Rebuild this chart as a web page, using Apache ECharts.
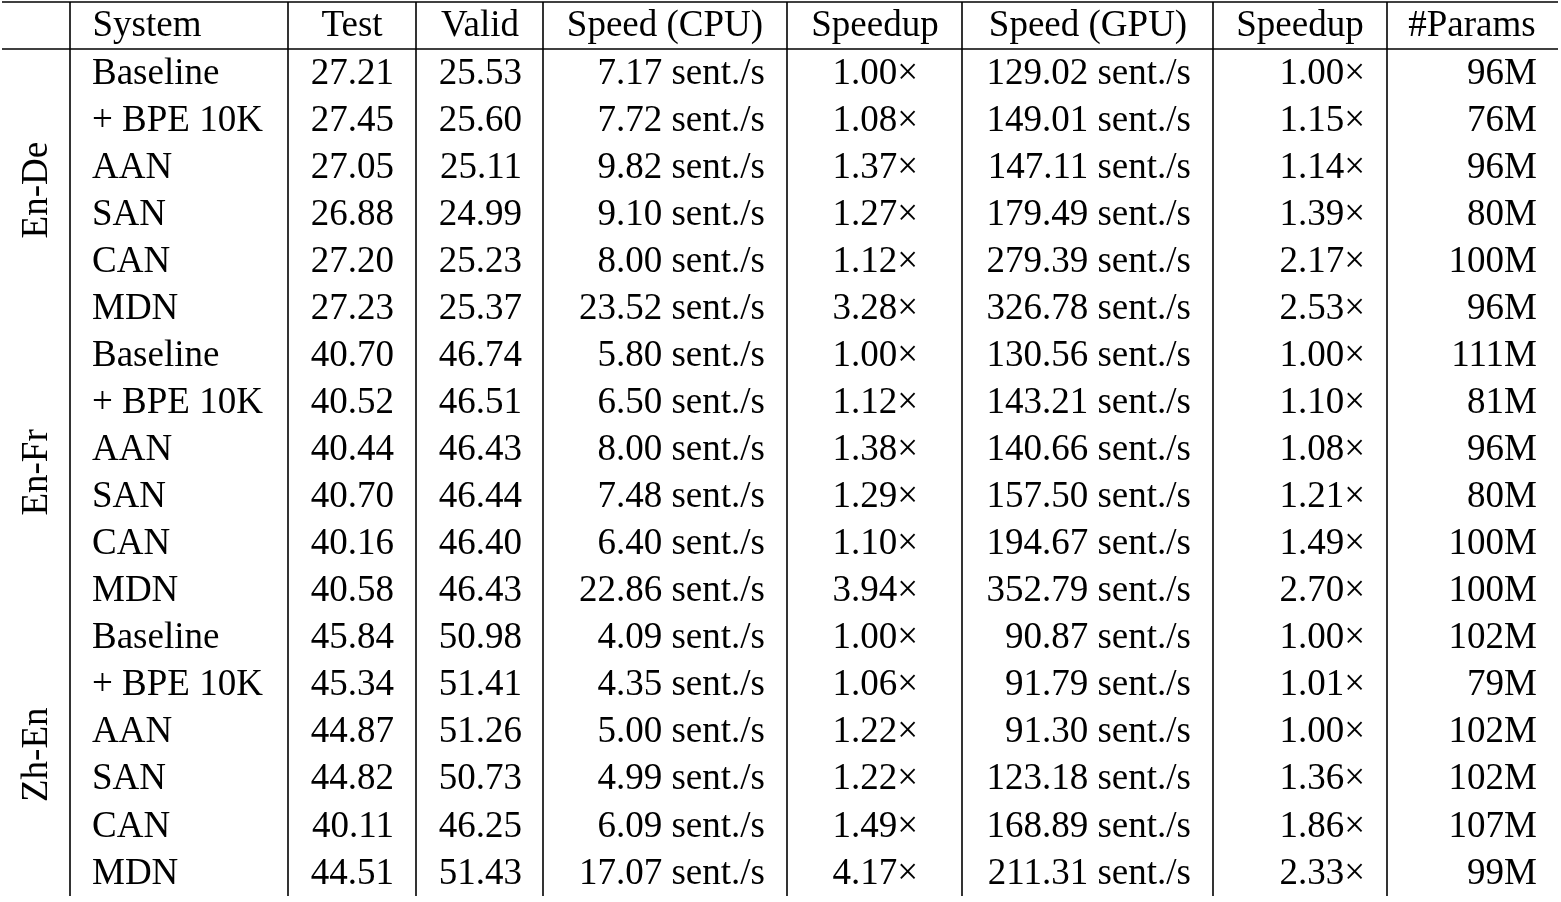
<!DOCTYPE html>
<html style="height: 100%">
<head>
<meta charset="utf-8">
<script src="https://cdn.jsdelivr.net/npm/echarts@6/dist/echarts.min.js"></script>
</head>
<body style="height: 100%; margin: 0; background: #fff">
<div id="container" style="width: 1561px; height: 902px"></div>
<script type="text/javascript">
// table content
var headers = ['System', 'Test', 'Valid', 'Speed (CPU)', 'Speedup', 'Speed (GPU)', 'Speedup', '#Params'];
var groups = ['En-De', 'En-Fr', 'Zh-En'];
var systems = ['Baseline', '+ BPE 10K', 'AAN', 'SAN', 'CAN', 'MDN'];
var test = [27.21, 27.45, 27.05, 26.88, 27.20, 27.23,
            40.70, 40.52, 40.44, 40.70, 40.16, 40.58,
            45.84, 45.34, 44.87, 44.82, 40.11, 44.51];
var valid = [25.53, 25.60, 25.11, 24.99, 25.23, 25.37,
             46.74, 46.51, 46.43, 46.44, 46.40, 46.43,
             50.98, 51.41, 51.26, 50.73, 46.25, 51.43];
var cpuSpeed = [7.17, 7.72, 9.82, 9.10, 8.00, 23.52,
                5.80, 6.50, 8.00, 7.48, 6.40, 22.86,
                4.09, 4.35, 5.00, 4.99, 6.09, 17.07];
var cpuSpeedup = [1.00, 1.08, 1.37, 1.27, 1.12, 3.28,
                  1.00, 1.12, 1.38, 1.29, 1.10, 3.94,
                  1.00, 1.06, 1.22, 1.22, 1.49, 4.17];
var gpuSpeed = [129.02, 149.01, 147.11, 179.49, 279.39, 326.78,
                130.56, 143.21, 140.66, 157.50, 194.67, 352.79,
                90.87, 91.79, 91.30, 123.18, 168.89, 211.31];
var gpuSpeedup = [1.00, 1.15, 1.14, 1.39, 2.17, 2.53,
                  1.00, 1.10, 1.08, 1.21, 1.49, 2.70,
                  1.00, 1.01, 1.00, 1.36, 1.86, 2.33];
var params = ['96M', '76M', '96M', '80M', '100M', '96M',
              '111M', '81M', '96M', '80M', '100M', '100M',
              '102M', '79M', '102M', '102M', '107M', '99M'];

// layout (pixel space of the hidden axes)
var colLines = [70, 288, 416, 543, 787, 962, 1213, 1387];
var headerX = [147, 352, 480, 665, 875, 1088, 1300, 1472];
var cellX = [92, 394, 522, 765, 918, 1191, 1365, 1537];
var cellAlign = ['left', 'right', 'right', 'right', 'right', 'right', 'right', 'right'];
var headerY = 26, firstRowY = 74, rowH = 47.05, lineTop = 49;

var cells = [];
headers.forEach(function (h, c) { cells.push([headerX[c], headerY, h, 'center', 0]); });
for (var r = 0; r < 18; r++) {
    var y = firstRowY + r * rowH;
    var vals = [systems[r % 6], test[r].toFixed(2), valid[r].toFixed(2),
        cpuSpeed[r].toFixed(2) + ' sent./s', cpuSpeedup[r].toFixed(2) + '×',
        gpuSpeed[r].toFixed(2) + ' sent./s', gpuSpeedup[r].toFixed(2) + '×', params[r]];
    vals.forEach(function (v, c) { cells.push([cellX[c], y, v, cellAlign[c], 0]); });
}
groups.forEach(function (g, i) {
    cells.push([37, lineTop + (i * 6 + 3) * rowH, g, 'center', 1]);
});

var lines = [[2, 2, 1558, 2], [2, lineTop, 1558, lineTop]];
for (var i = 0; i < 3; i++) {
    var top = lineTop + i * 6 * rowH;
    lines.push([70, top + 5 * rowH, 1558, top + 5 * rowH]);
    lines.push([2, top + 6 * rowH, 1558, top + 6 * rowH]);
}
colLines.forEach(function (x) { lines.push([x, 2, x, lineTop + 18 * rowH]); });

var font = '"Liberation Serif", "DejaVu Serif", serif';
var myChart = echarts.init(document.getElementById('container'));
myChart.setOption({
    animation: false,
    grid: {left: 0, right: 0, top: 0, bottom: 0},
    xAxis: {type: 'value', min: 0, max: 1561, show: false},
    yAxis: {type: 'value', min: 0, max: 902, inverse: true, show: false},
    series: [{
        type: 'custom',
        data: lines.map(function (l, i) { return [l[0], l[1], i]; }),
        renderItem: function (params, api) {
            var l = lines[params.dataIndex];
            var a = api.coord([l[0], l[1]]);
            var b = api.coord([l[2], l[3]]);
            return {type: 'line', shape: {x1: a[0], y1: a[1], x2: b[0], y2: b[1]},
                style: {stroke: '#000', lineWidth: 1.6}};
        }
    }, {
        type: 'custom',
        data: cells.map(function (d) { return [d[0], d[1]]; }),
        renderItem: function (params, api) {
            var d = cells[params.dataIndex];
            var p = api.coord([d[0], d[1]]);
            return {type: 'text', x: p[0], y: p[1], rotation: d[4] ? Math.PI / 2 : 0,
                style: {text: d[2], fill: '#000', font: '37px ' + font,
                    align: d[3], verticalAlign: 'middle'}};
        }
    }]
});
</script>
</body>
</html>
